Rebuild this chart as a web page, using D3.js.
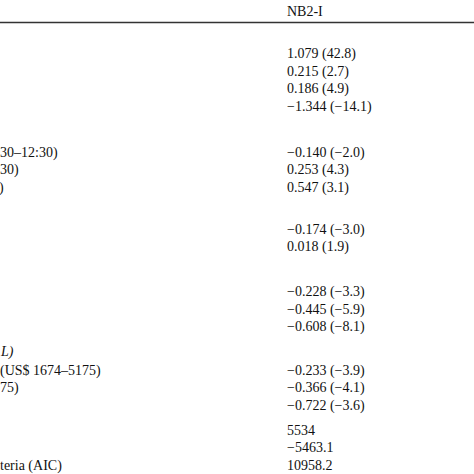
<!DOCTYPE html>
<html><head><meta charset="utf-8">
<script src="https://cdn.jsdelivr.net/npm/d3@7"></script>
<style>body{margin:0;background:#fff}text{font-family:"Liberation Serif",serif;font-size:14px;fill:#111}</style>
</head><body><svg id="tbl" width="474" height="474"></svg>
<script>
const values = ["1.079 (42.8)", "0.215 (2.7)", "0.186 (4.9)", "\u22121.344 (\u221214.1)",
  "\u22120.140 (\u22122.0)", "0.253 (4.3)", "0.547 (3.1)",
  "\u22120.174 (\u22123.0)", "0.018 (1.9)",
  "\u22120.228 (\u22123.3)", "\u22120.445 (\u22125.9)", "\u22120.608 (\u22128.1)",
  "\u22120.233 (\u22123.9)", "\u22120.366 (\u22124.1)", "\u22120.722 (\u22123.6)",
  "5534", "\u22125463.1", "10958.2"];
const slots = [0, 1, 2, 3, 5.6, 6.6, 7.6, 9.95, 10.95, 13.5, 14.5, 15.5, 17.95, 18.95, 19.95, 21.35, 22.35, 23.35];
const labels = [["30\u201312:30)", 5.6], ["30)", 6.6], [")", 7.6], ["L)", 16.9, true],
  ["(US$ 1674\u20135175)", 17.95], ["75)", 18.95], ["teria (AIC)", 23.35]];
const header = "NB2-I";

const svg = d3.select("#tbl");
const y = d3.scaleLinear().domain([0, 23.35]).range([58, 470]);

svg.append("text").attr("x", 287).attr("y", 16).text(header);
svg.append("line").attr("x1", 0).attr("x2", 474).attr("y1", 22.5).attr("y2", 22.5)
  .attr("stroke", "#333").attr("stroke-width", 1.6);

svg.selectAll("text.v").data(values).enter().append("text")
  .attr("class", "v").attr("x", 287).attr("y", (d, i) => y(slots[i])).text(d => d);

svg.selectAll("text.l").data(labels).enter().append("text")
  .attr("class", "l").attr("x", d => d[0] === ")" ? -1 : (d[2] ? 1 : 0))
  .attr("y", d => y(d[1])).style("font-style", d => d[2] ? "italic" : null).text(d => d[0]);
</script></body></html>
